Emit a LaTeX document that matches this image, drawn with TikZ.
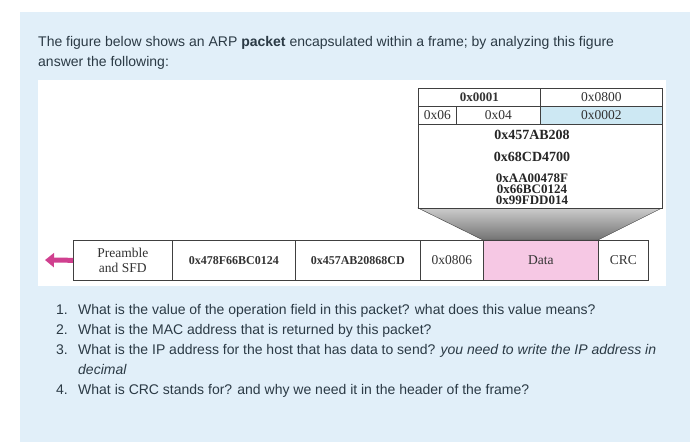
\documentclass[tikz,border=0pt]{standalone}
\usepackage{fontspec}
\setmainfont{Liberation Sans}
\newfontfamily\tms{Liberation Serif}
\usetikzlibrary{arrows.meta}
\definecolor{panel}{HTML}{E1EFF9}
\definecolor{txt}{HTML}{2B3A45}
\definecolor{pinkd}{HTML}{F6C8E4}
\definecolor{bluec}{HTML}{CDE8F3}
\definecolor{mag}{HTML}{D0408F}
\tikzset{cell/.style={draw=black!75,line width=0.6pt,font=\tms\fontsize{13.5}{14}\selectfont,text=black!80,inner sep=0pt},
 q/.style={anchor=base west,text=txt,font=\fontsize{14}{16}\selectfont,inner sep=0pt}}
\begin{document}
\begin{tikzpicture}[x=1pt,y=-1pt]
\useasboundingbox (0,0) rectangle (700,445);
\fill[white] (0,0) rectangle (700,445);
\fill[panel] (20,12) rectangle (690,442);
\fill[white] (38,80) rectangle (666,286);
\node[q] (t1) at (38,46) {The figure below shows an ARP \textbf{packet} encapsulated within a frame; by analyzing this figure};
\node[q] (t2) at (38,66) {answer the following:};
% ARP packet
\shade[top color=black!20,bottom color=black!55,draw=black!75] (418,208) -- (662,208) -- (598,240) -- (483,240) -- cycle;
\node[cell,fill=white,minimum width=244,minimum height=84,anchor=north west] (addr) at (418,124) {};
\node[cell,minimum width=122,minimum height=18,anchor=north west,font=\tms\bfseries\fontsize{13}{14}\selectfont] (htype) at (418,88) {0x0001};
\node[cell,minimum width=122,minimum height=18,anchor=north west] (ptype) at (540,88) {0x0800};
\node[cell,minimum width=38,minimum height=18,anchor=north west] (hlen) at (418,106) {0x06};
\node[cell,minimum width=84,minimum height=18,anchor=north west] (plen) at (456,106) {0x04};
\node[cell,fill=bluec,minimum width=122,minimum height=18,anchor=north west] (oper) at (540,106) {0x0002};
\begin{scope}[every node/.style={font=\tms\bfseries\fontsize{14}{14}\selectfont,text=black!85,inner sep=0pt}]
\node (a1) at (532,135) {0x457AB208};
\node (a2) at (532,157) {0x68CD4700};
\end{scope}
\begin{scope}[every node/.style={font=\tms\bfseries\fontsize{13}{13}\selectfont,text=black!85,inner sep=0pt,anchor=base}]
\node (a3) at (532,182) {0xAA00478F};
\node (a4) at (532,193) {0x66BC0124};
\node (a5) at (532,204) {0x99FDD014};
\end{scope}
% frame
\node[cell,fill=white,minimum width=99,minimum height=40,anchor=north west,align=center,font=\tms\fontsize{13.5}{15}\selectfont] (pre) at (73,240) {Preamble\\and SFD};
\node[cell,fill=white,minimum width=123,minimum height=40,anchor=north west,font=\tms\bfseries\fontsize{12}{13}\selectfont] (dst) at (172,240) {0x478F66BC0124};
\node[cell,fill=white,minimum width=125,minimum height=40,anchor=north west,font=\tms\bfseries\fontsize{12}{13}\selectfont] (src) at (295,240) {0x457AB20868CD};
\node[cell,fill=white,minimum width=63,minimum height=40,anchor=north west] (typ) at (420,240) {0x0806};
\node[cell,fill=pinkd,minimum width=115,minimum height=40,anchor=north west] (data) at (483,240) {Data};
\node[cell,fill=white,minimum width=50,minimum height=40,anchor=north west] (crc) at (598,240) {CRC};
\coordinate (tip) at (45,260);
\draw[mag,line width=5pt,-{Triangle[length=9pt,width=14pt]}] (pre.west) -- (tip);
% questions
\begin{scope}[every node/.style={q}]
\node (n1) at (56,314) {1.}; \node (q1) at (78,314) {What is the value of the operation field in this packet? what does this value means?};
\node (n2) at (56,334) {2.}; \node (q2) at (78,334) {What is the MAC address that is returned by this packet?};
\node (n3) at (56,354) {3.}; \node (q3) at (78,354) {What is the IP address for the host that has data to send? \textit{you need to write the IP address in}};
\node (q3b) at (78,374) {\textit{decimal}};
\node (n4) at (56,394) {4.}; \node (q4) at (78,394) {What is CRC stands for? and why we need it in the header of the frame?};
\end{scope}
\end{tikzpicture}
\end{document}
